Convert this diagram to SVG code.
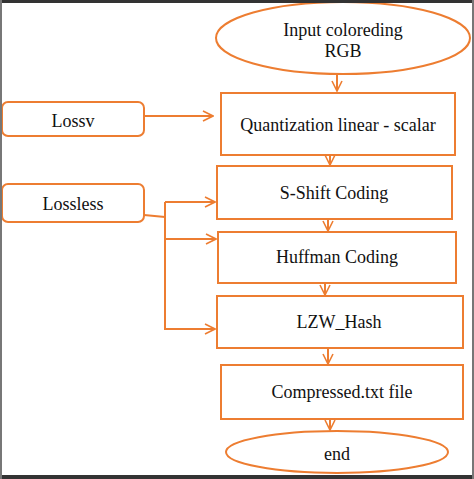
<svg xmlns="http://www.w3.org/2000/svg" width="474" height="479" viewBox="0 0 474 479">
<defs>
<marker id="arr" viewBox="0 0 12 12" refX="11" refY="6" markerWidth="12" markerHeight="12" markerUnits="userSpaceOnUse" orient="auto">
<polyline points="1,1 11,6 1,11" fill="none" stroke="#ED7D31" stroke-width="1.6"/>
</marker>
<style>
.b{fill:#fff;stroke:#ED7D31;stroke-width:2}
.t{font-family:"Liberation Serif","Times New Roman",serif;font-size:18px;fill:#111;text-anchor:middle}
.c{fill:none;stroke:#ED7D31;stroke-width:2}
</style>
</defs>
<rect x="0" y="0" width="474" height="479" fill="#fff"/>
<g id="n-input"><ellipse class="b" cx="343" cy="38" rx="127" ry="36"/><text class="t" x="343" y="36">Input coloreding</text><text class="t" x="343" y="57">RGB</text></g>
<g id="n-quant"><rect class="b" x="221" y="93" width="234" height="62"/><text class="t" x="338" y="131">Quantization linear - scalar</text></g>
<g id="n-lossv"><rect class="b" x="2" y="102" width="142" height="34" rx="6"/><text class="t" x="73" y="127">Lossv</text></g>
<g id="n-sshift"><rect class="b" x="217" y="166" width="235" height="53"/><text class="t" x="334" y="199">S-Shift Coding</text></g>
<g id="n-lossless"><rect class="b" x="2" y="184" width="142" height="38" rx="6"/><text class="t" x="73" y="210">Lossless</text></g>
<g id="n-huff"><rect class="b" x="218" y="232" width="238" height="51"/><text class="t" x="337" y="263">Huffman Coding</text></g>
<g id="n-lzw"><rect class="b" x="217" y="296" width="246" height="52"/><text class="t" x="339" y="328">LZW_Hash</text></g>
<g id="n-comp"><rect class="b" x="221" y="365" width="242" height="54"/><text class="t" x="342" y="398">Compressed.txt file</text></g>
<g id="n-end"><ellipse class="b" cx="337" cy="452" rx="111" ry="21"/><text class="t" x="337" y="460">end</text></g>
<g id="connectors">
<line class="c" x1="337" y1="74" x2="337" y2="91" marker-end="url(#arr)"/>
<line class="c" x1="144" y1="116" x2="213" y2="116" marker-end="url(#arr)"/>
<line class="c" x1="330" y1="155" x2="330" y2="165" marker-end="url(#arr)"/>
<polyline class="c" points="144,215 165,217"/>
<line class="c" x1="165" y1="202" x2="165" y2="330"/>
<line class="c" x1="165" y1="202" x2="215" y2="202" marker-end="url(#arr)"/>
<line class="c" x1="165" y1="239" x2="216" y2="239" marker-end="url(#arr)"/>
<line class="c" x1="165" y1="329" x2="215" y2="329" marker-end="url(#arr)"/>
<line class="c" x1="328" y1="219" x2="328" y2="231" marker-end="url(#arr)"/>
<line class="c" x1="325" y1="283" x2="325" y2="295" marker-end="url(#arr)"/>
<line class="c" x1="328" y1="348" x2="328" y2="364" marker-end="url(#arr)"/>
<line class="c" x1="330" y1="419" x2="330" y2="430" marker-end="url(#arr)"/>
</g>
<g id="frame">
<rect x="0" y="0" width="474" height="3" fill="#333"/>
<rect x="0" y="475" width="474" height="4" fill="#333"/>
<rect x="0" y="0" width="2" height="479" fill="#777"/>
<rect x="472" y="0" width="2" height="479" fill="#777"/>
</g>
</svg>
